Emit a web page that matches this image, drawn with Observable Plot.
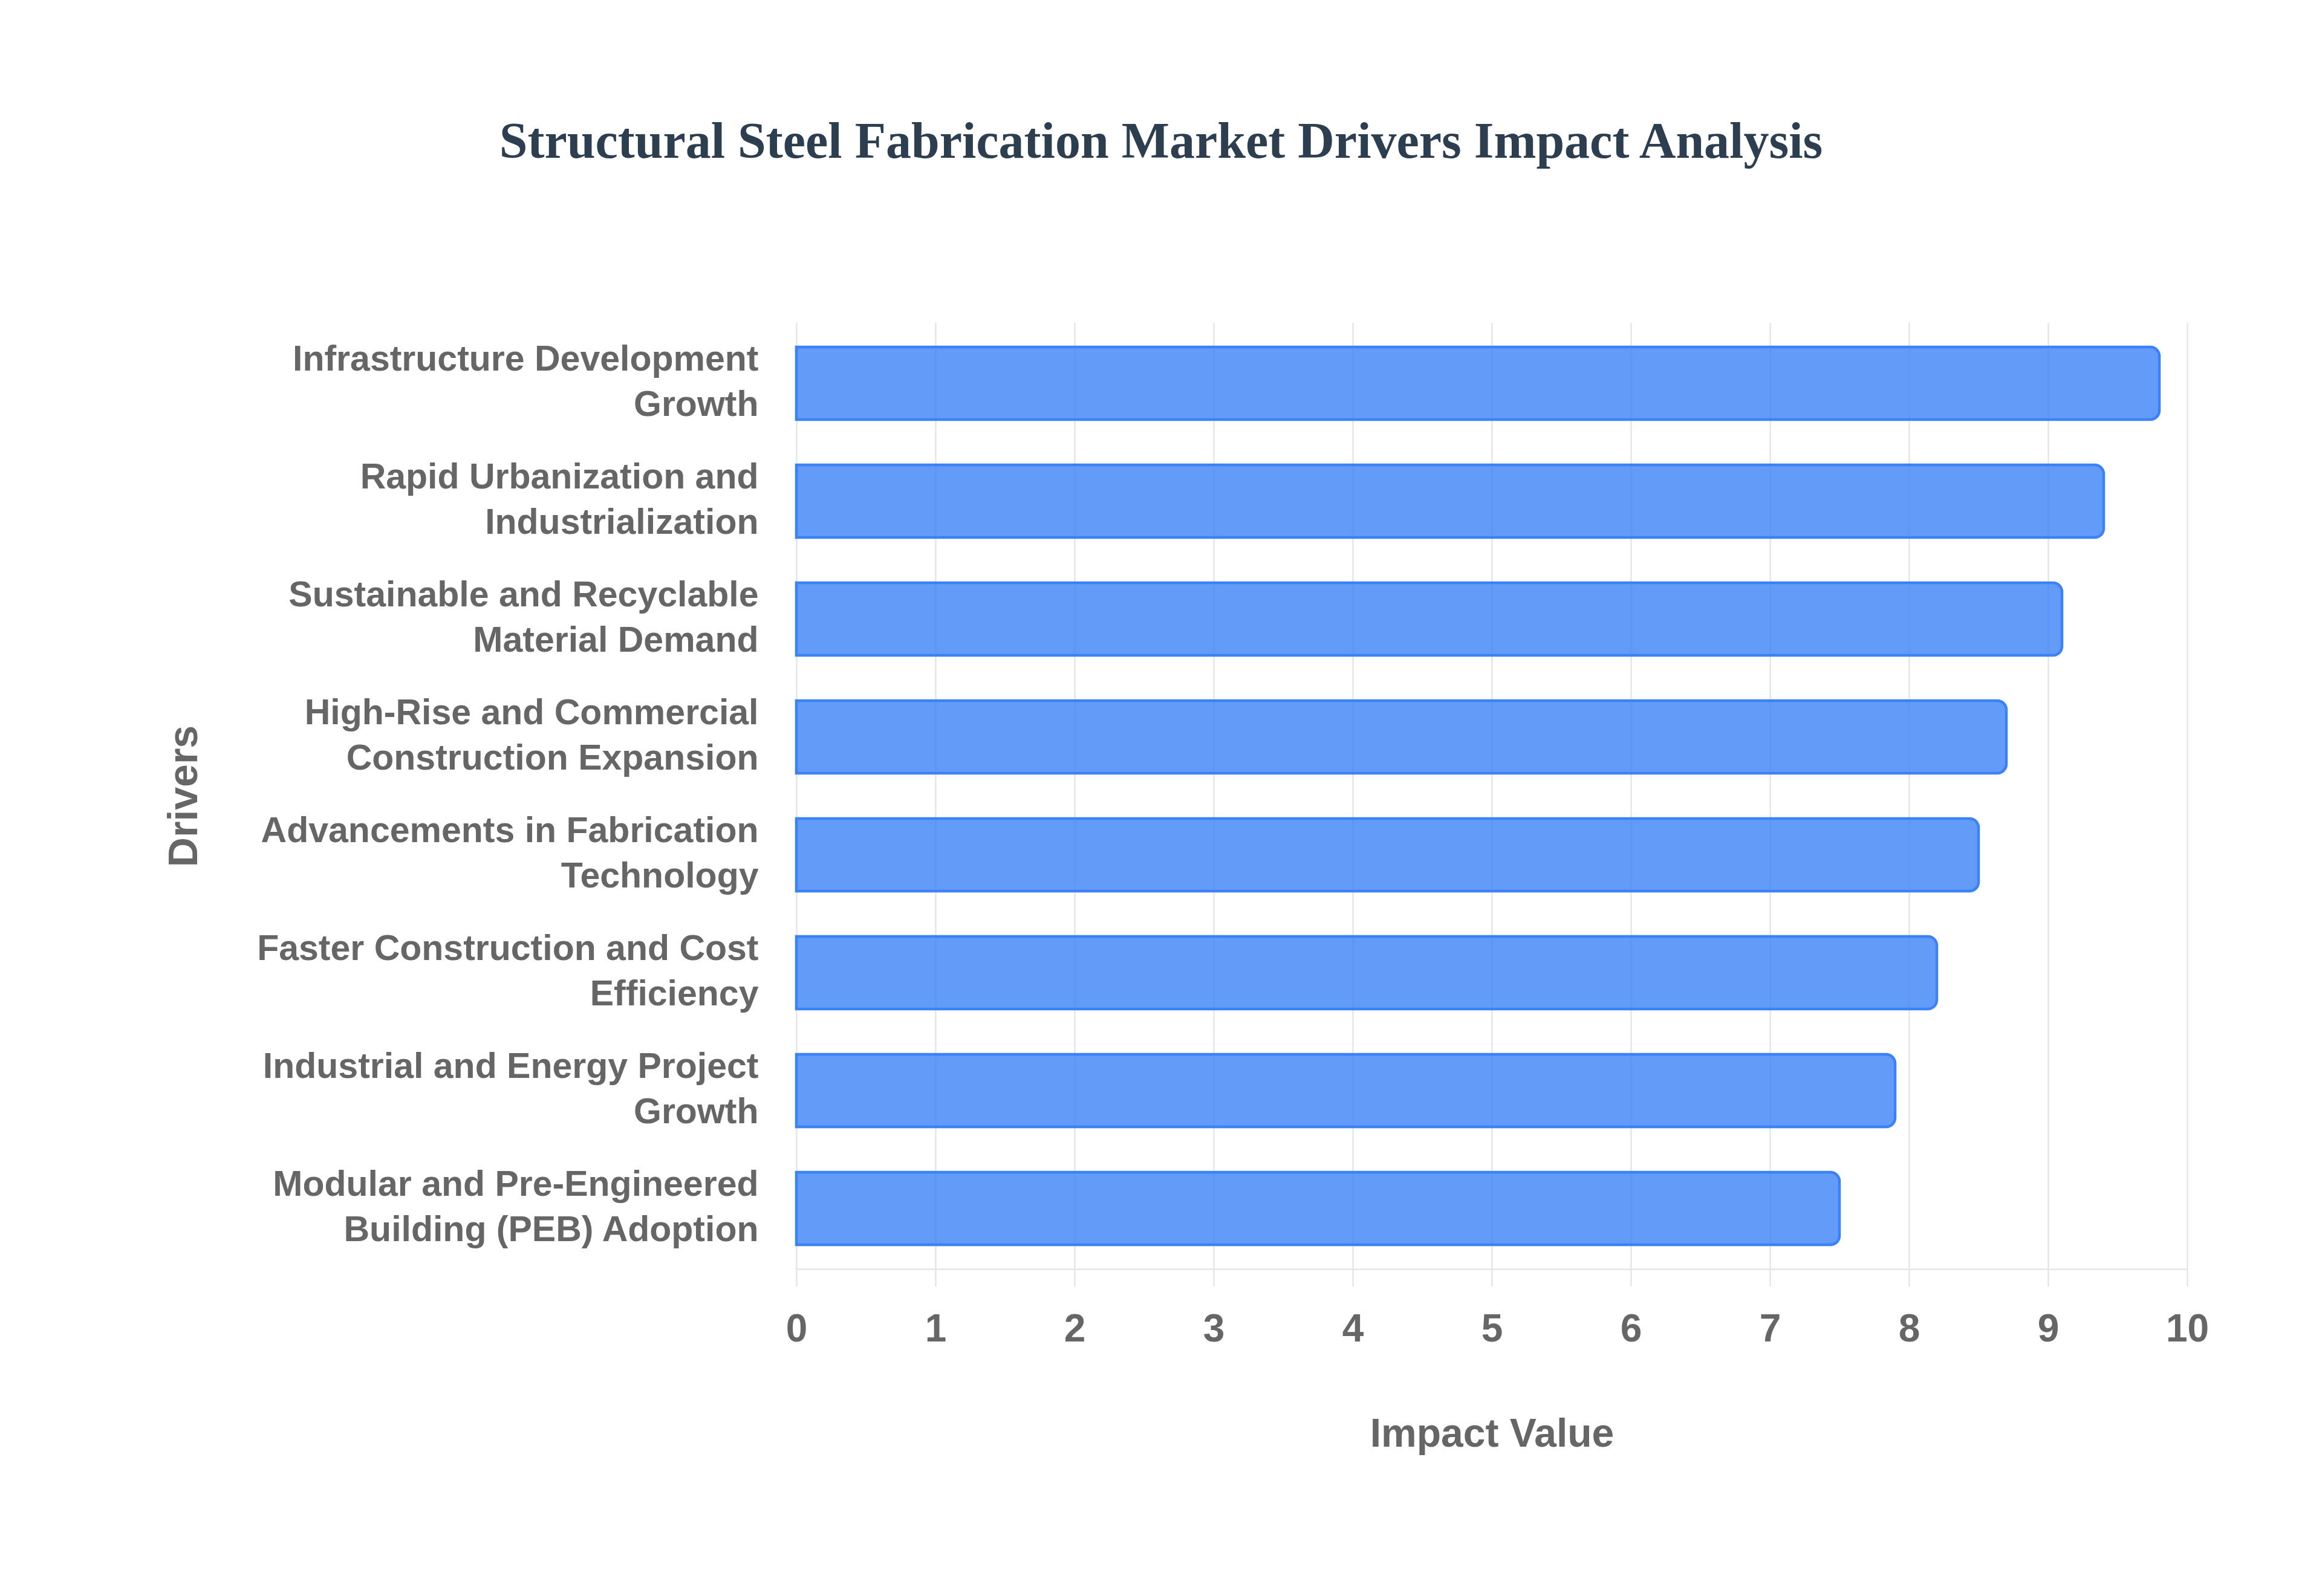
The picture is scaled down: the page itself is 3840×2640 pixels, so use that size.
<!DOCTYPE html>
<html>
<head>
<meta charset="utf-8">
<script src="https://cdn.jsdelivr.net/npm/d3@7"></script>
<script src="https://cdn.jsdelivr.net/npm/@observablehq/plot@0.6"></script>
<style>
html, body { margin: 0; padding: 0; background: #fff; }
#title {
  height: 400px; box-sizing: border-box; padding-top: 190px; margin: 0;
  text-align: center; font-family: "Liberation Serif", "Times New Roman", serif;
  font-weight: bold; font-size: 84px; line-height: 86px; color: #2c3e50;
}
</style>
</head>
<body>
<div id="title">Structural Steel Fabrication Market Drivers Impact Analysis</div>
<div id="chart"></div>
<script>
const drivers = [
  "Infrastructure Development Growth",
  "Rapid Urbanization and Industrialization",
  "Sustainable and Recyclable Material Demand",
  "High-Rise and Commercial Construction Expansion",
  "Advancements in Fabrication Technology",
  "Faster Construction and Cost Efficiency",
  "Industrial and Energy Project Growth",
  "Modular and Pre-Engineered Building (PEB) Adoption"
];
const driverLabels = [
  "Infrastructure Development\nGrowth",
  "Rapid Urbanization and\nIndustrialization",
  "Sustainable and Recyclable\nMaterial Demand",
  "High-Rise and Commercial\nConstruction Expansion",
  "Advancements in Fabrication\nTechnology",
  "Faster Construction and Cost\nEfficiency",
  "Industrial and Energy Project\nGrowth",
  "Modular and Pre-Engineered\nBuilding (PEB) Adoption"
];
const impactValues = [9.8, 9.4, 9.1, 8.7, 8.5, 8.2, 7.9, 7.5];
const xTicks = [0, 1, 2, 3, 4, 5, 6, 7, 8, 9, 10];
const xTitle = "Impact Value";
const yTitle = "Drivers";

const data = drivers.map((d, i) => ({driver: d, label: driverLabels[i], value: impactValues[i]}));
const labelOf = new Map(data.map(d => [d.driver, d.label]));
const gray = "#666666";
const gridColor = "#e6e6e6";

const chart = Plot.plot({
  width: 3840,
  height: 2240,
  marginLeft: 1317,
  marginRight: 223,
  marginTop: 134,
  marginBottom: 541,
  style: {fontFamily: "'Liberation Sans', Arial, sans-serif", background: "#fff"},
  x: {domain: [0, 10], ticks: xTicks},
  y: {domain: drivers, paddingInner: 0.385, paddingOuter: 0.1925, axis: null},
  marks: [
    Plot.gridX(xTicks, {stroke: gridColor, strokeOpacity: 1, strokeWidth: 2.5}),
    Plot.frame({anchor: "bottom", stroke: gridColor, strokeWidth: 2.5}),
    Plot.axisX(xTicks, {
      tickSize: 29, tickPadding: 45, stroke: gridColor, strokeWidth: 2.5,
      tickFormat: d => String(d),
      fill: gray, fontSize: 64, fontWeight: "bold", label: null
    }),
    Plot.axisY({
      tickSize: 0, tickPadding: 63, tickFormat: d => labelOf.get(d), dy: -8,
      fill: gray, fontSize: 59, fontWeight: "bold", lineHeight: 1.27, label: null
    }),
    Plot.barX(data, {
      x: "value", y: "driver", fill: "#3b82f6", fillOpacity: 0.8,
      stroke: "#3b82f6", strokeWidth: 4.5, rx2: 15
    }),
    Plot.text([xTitle], {
      frameAnchor: "bottom", dy: 272, lineAnchor: "middle", textAnchor: "middle",
      fill: gray, fontSize: 66, fontWeight: "bold"
    }),
    Plot.text([yTitle], {
      frameAnchor: "left", dx: -1013, rotate: -90, lineAnchor: "middle", textAnchor: "middle",
      fill: gray, fontSize: 68, fontWeight: "bold"
    })
  ]
});
document.getElementById("chart").appendChild(chart);
</script>
</body>
</html>
